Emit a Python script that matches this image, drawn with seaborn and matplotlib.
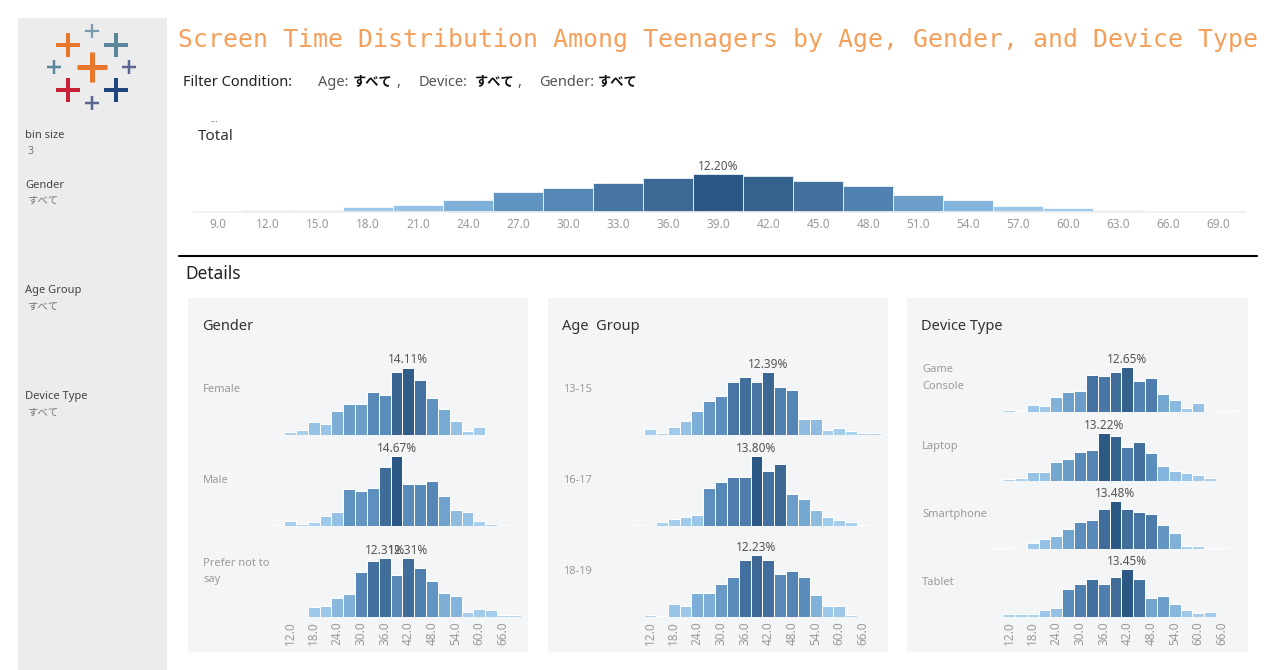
"""Screen time dashboard: total histogram + detail histograms by gender / age / device."""

import numpy as np
import matplotlib
matplotlib.use("Agg")
import matplotlib.pyplot as plt
from matplotlib.colors import LinearSegmentedColormap
from matplotlib.patches import Rectangle
import seaborn as sns

# ── Data (share of teenagers per 3-hour bin, %) ──────────────────────────────

BINS = [9, 12, 15, 18, 21, 24, 27, 30, 33, 36, 39, 42, 45, 48, 51, 54, 57, 60, 63, 66, 69]

TOTAL = [0, 0.55, 0.55, 1.7, 2.35, 3.97, 6.3, 7.8, 9.4, 10.8, 12.2, 11.4, 10.0, 8.2, 5.4, 3.7, 1.8, 1.4, 0.55, 0.2, 0]

GENDER_LABELS = ["Female", "Male", "Prefer not to\nsay"]
FEMALE = [0, 0.56, 0.98, 2.7, 2.4, 5.1, 6.6, 6.6, 9.0, 8.4, 13.3, 14.11, 11.5, 7.8, 5.5, 2.9, 0.9, 1.7, 0, 0, 0]
MALE = [0.15, 1.1, 0.5, 0.85, 2.0, 2.9, 7.8, 7.3, 8.0, 12.4, 14.67, 8.7, 8.7, 9.4, 6.2, 3.4, 2.9, 1.1, 0.5, 0.2, 0]
PREFER_NOT = [0, 0, 0, 2.1, 2.3, 3.9, 4.8, 9.4, 11.8, 12.31, 8.8, 12.31, 10.2, 7.5, 5.1, 4.4, 1.1, 1.6, 1.4, 0.35, 0.35]

AGE_LABELS = ["13-15", "16-17", "18-19"]
AGE_13_15 = [0, 1.1, 0.3, 1.6, 2.7, 4.7, 6.7, 7.7, 10.5, 11.4, 10.5, 12.39, 9.4, 8.9, 3.2, 3.2, 1.0, 1.4, 0.8, 0.3, 0.3]
AGE_16_17 = [0.25, 0, 0.8, 1.3, 1.7, 2.2, 7.5, 8.6, 9.7, 9.7, 13.80, 10.9, 12.2, 6.3, 5.3, 3.2, 1.7, 1.2, 0.8, 0.25, 0]
AGE_18_19 = [0, 0.45, 0.25, 2.5, 2.1, 4.7, 4.7, 6.5, 7.9, 11.3, 12.23, 11.3, 8.4, 9.0, 7.9, 4.3, 2.1, 2.1, 0.35, 0, 0]

DEVICE_LABELS = ["Game\nConsole", "Laptop", "Smartphone", "Tablet"]
GAME_CONSOLE = [0, 0.65, 0.3, 2.1, 1.8, 4.2, 5.8, 6.1, 10.6, 10.2, 11.4, 12.65, 8.9, 9.5, 5.2, 3.5, 1.3, 2.6, 0, 0.4, 0.4]
LAPTOP = [0, 0.35, 0.65, 2.5, 2.5, 5.3, 6.1, 8.1, 8.7, 13.22, 12.5, 9.5, 10.9, 7.6, 4.1, 2.7, 2.0, 1.6, 0.65, 0, 0]
SMARTPHONE = [0.2, 0.2, 0, 1.7, 2.6, 3.6, 5.5, 7.6, 8.1, 11.3, 13.48, 11.3, 10.3, 9.7, 6.7, 4.4, 0.9, 0.65, 0.2, 0.2, 0]
TABLET = [0, 0.75, 0.75, 0.75, 2.0, 2.6, 7.9, 9.3, 10.8, 9.3, 11.3, 13.45, 10.6, 5.4, 6.0, 3.7, 1.9, 1.1, 1.4, 0, 0]

DETAIL_TICKS = [12, 18, 24, 30, 36, 42, 48, 54, 60, 66]

# ── Style ─────────────────────────────────────────────────────────────────────

W, H = 1280, 670
CMAP = LinearSegmentedColormap.from_list("tab_blue", [
    (0.00, "#b3d6f0"), (0.14, "#9dc8ea"), (0.33, "#7eb0d8"), (0.52, "#5f93c0"),
    (0.64, "#5586b6"), (0.77, "#4674a3"), (0.89, "#3d6894"), (1.00, "#2a5783"),
])
GREY_TXT = "#9a9a9a"
DARK_TXT = "#333333"

sns.set_theme(style="white")
plt.rcParams["font.family"] = ["Noto Sans", "Noto Sans CJK JP", "DejaVu Sans"]


def px_axes(fig, left, top, right, bottom, **kw):
    return fig.add_axes([left / W, 1 - bottom / H, (right - left) / W, (bottom - top) / H], **kw)


def hist(ax, values, vmax, ylim_top, edge=0.7):
    sns.barplot(x=BINS, y=values, native_scale=True, width=1.0, color="#4a7fb0",
                edgecolor="white", linewidth=edge, ax=ax)
    for patch in ax.patches:
        h = patch.get_height()
        if h <= 0:
            patch.set_visible(False)
        else:
            patch.set_facecolor(CMAP(h / vmax))
    ax.set_xlim(7.5, 70.5)
    ax.set_ylim(0, ylim_top)
    ax.set_facecolor("none")
    ax.set_yticks([])
    ax.set_xlabel("")
    ax.set_ylabel("")
    sns.despine(ax=ax, left=True, top=True, right=True, bottom=True)
    # label tallest bar(s)
    peak = max(values)
    for b, v in zip(BINS, values):
        if v == peak:
            ax.text(b, v + ylim_top * 0.015, f"{v:.2f}%", ha="center", va="bottom",
                    fontsize=8.5, color="#555555")


fig = plt.figure(figsize=(W / 100, H / 100), dpi=100)
fig.patch.set_facecolor("white")

# ── Decoration layer (pixel coordinates) ─────────────────────────────────────
deco = fig.add_axes([0, 0, 1, 1], zorder=0)
deco.set_xlim(0, W)
deco.set_ylim(H, 0)
deco.axis("off")

deco.add_patch(Rectangle((18, 18), 149, 652, color="#ececec", lw=0))
for x0, w in [(188, 340), (548, 340), (907, 341)]:
    deco.add_patch(Rectangle((x0, 298), w, 354, color="#f4f5f7", lw=0))
deco.plot([179, 1257], [256, 256], color="black", lw=1.5)

# Tableau-style logo
crosses = [
    (92, 31, 7, 2.2, "#7a99ac"), (68, 45, 12, 4, "#e8762b"), (116, 45, 12, 4, "#5b879b"),
    (54, 67, 7, 2.5, "#5b879b"), (92, 67, 15, 5, "#e8762b"), (129, 67, 7, 2.5, "#5c6692"),
    (68, 90, 12, 4, "#c72037"), (116, 90, 12, 4, "#1f447e"), (92, 103, 7, 2.5, "#5c6692"),
]
for cx, cy, arm, lw, col in crosses:
    deco.plot([cx - arm, cx + arm], [cy, cy], color=col, lw=lw * 0.72, solid_capstyle="butt")
    deco.plot([cx, cx], [cy - arm, cy + arm], color=col, lw=lw * 0.72, solid_capstyle="butt")

# sidebar filters
for y, head, val in [(135, "bin size", "3"), (185, "Gender", "すべて"),
                     (291, "Age Group", "すべて"), (397, "Device Type", "すべて")]:
    deco.text(25, y, head, fontsize=8, color="#444444", fontweight="semibold", va="center")
    deco.text(27, y + 16, val, fontsize=7.5, color="#777777", va="center")

# title and filter line
deco.text(178, 40, "Screen Time Distribution Among Teenagers by Age, Gender, and Device Type",
          family="DejaVu Sans Mono", fontsize=17.9, color="#f5a05a", va="center")
deco.text(183, 82, "Filter Condition:", fontsize=10.5, fontweight="bold", color="#222222", va="center")
for x, s, kind in [(318, "Age:", "key"), (353, "すべて", "val"), (396, ",", "key"),
                   (419, "Device:", "key"), (475, "すべて", "val"), (517, ",", "key"),
                   (539, "Gender:", "key"), (598, "すべて", "val")]:
    if kind == "val":
        deco.text(x, 82, s, fontsize=9.5, color="#111111", va="center", fontweight="bold")
    else:
        deco.text(x, 82, s, fontsize=10.5, color="#555555", va="center")

deco.text(210, 120, "...", fontsize=7, fontweight="bold", color="#333333", va="center")
deco.text(198, 137, "Total", fontsize=11, color=DARK_TXT, va="center")
deco.text(185, 274, "Details", fontsize=12.5, color="#222222", va="center")
for x, t in [(202, "Gender"), (562, "Age  Group"), (921, "Device Type")]:
    deco.text(x, 326, t, fontsize=10.5, color=DARK_TXT, va="center")

# ── Total histogram ──────────────────────────────────────────────────────────
ax_total = px_axes(fig, 193, 150, 1245, 212, zorder=2)
hist(ax_total, TOTAL, max(TOTAL), max(TOTAL) * 62 / 38, edge=0.5)
ax_total.set_xlim(7.5, 70.6)
ax_total.spines["bottom"].set_visible(True)
ax_total.spines["bottom"].set_color("#eeeeee")
ax_total.set_xticks(BINS)
ax_total.set_xticklabels([f"{b:.1f}" for b in BINS])
ax_total.tick_params(axis="x", length=0, pad=4.5, labelsize=8.5, labelcolor=GREY_TXT)

# ── Detail panels ────────────────────────────────────────────────────────────
panels = [
    (272.3, GENDER_LABELS, [FEMALE, MALE, PREFER_NOT], 70),
    (632.3, AGE_LABELS, [AGE_13_15, AGE_16_17, AGE_18_19], 70),
    (991.3, DEVICE_LABELS, [GAME_CONSOLE, LAPTOP, SMARTPHONE, TABLET], 48),
]
top_px, bottom_px = 344, 617
for left, labels, series, bar_px in panels:
    n = len(series)
    row_h = (bottom_px - top_px) / n
    pmax = max(max(s) for s in series)
    for i, (lab, vals) in enumerate(zip(labels, series)):
        t = top_px + i * row_h
        ax = px_axes(fig, left, t, left + 248.4, t + row_h, zorder=2)
        hist(ax, vals, pmax, pmax * row_h / bar_px)
        if i == n - 1:
            ax.set_xticks(DETAIL_TICKS)
            ax.set_xticklabels([f"{b:.1f}" for b in DETAIL_TICKS], rotation=90)
            ax.tick_params(axis="x", length=0, pad=3, labelsize=8.5, labelcolor=GREY_TXT)
        else:
            ax.set_xticks([])
        deco.text(left - 69, t + row_h / 2, lab, fontsize=8, color=GREY_TXT,
                  va="center", ha="left", linespacing=1.7)

fig.savefig("out.png", dpi=100)
